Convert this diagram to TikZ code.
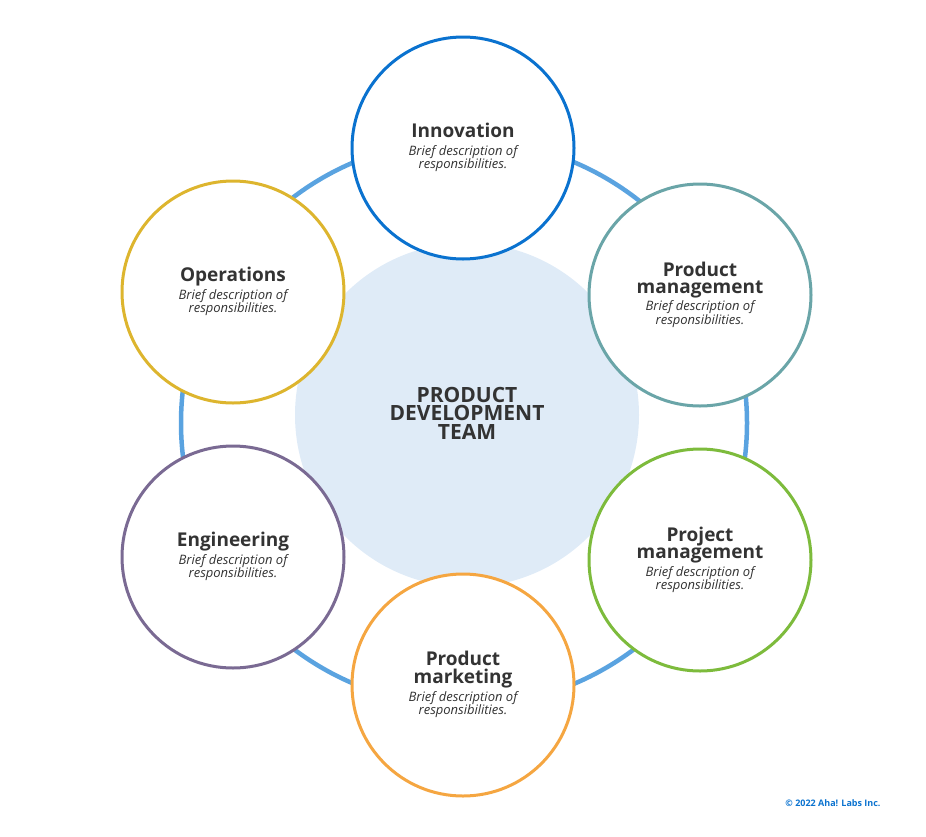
\documentclass[tikz,border=0pt]{standalone}
\usepackage{fontspec}
\setmainfont{Open Sans}
\definecolor{ringc}{HTML}{5AA3E0}
\definecolor{inno}{HTML}{0A72CF}
\definecolor{pmc}{HTML}{6AA5A8}
\definecolor{prj}{HTML}{7DBB3C}
\definecolor{mktc}{HTML}{F5A641}
\definecolor{engc}{HTML}{7A6A93}
\definecolor{opsc}{HTML}{DDB52E}
\definecolor{corec}{HTML}{DFEBF7}
\begin{document}
\begin{tikzpicture}[x=1pt,y=-1pt,
  rolebox/.style={circle,draw,line width=3pt,fill=white,minimum size=222pt,inner sep=0pt,text=black!80}]
\useasboundingbox (0,0) rectangle (926,836);
\coordinate (c) at (464,423);
\draw[ringc,line width=4.5pt] (c) circle[radius=283];
\node[circle,fill=corec,minimum size=344pt,inner sep=0pt,text=black!80] (core) at (467,415)
  {\begin{tabular}{@{}c@{}}\bfseries\fontsize{21}{26}\selectfont PRODUCT\\\bfseries\fontsize{21}{26}\selectfont DEVELOPMENT\\\bfseries\fontsize{21}{26}\selectfont TEAM\end{tabular}};
\node[rolebox,draw=inno] (inn) at (463,148) {\begin{tabular}{@{}c@{}}\bfseries\fontsize{19}{23}\selectfont Innovation\\[4pt]\itshape\fontsize{13}{16}\selectfont Brief description of\\\itshape\fontsize{13}{16}\selectfont responsibilities.\end{tabular}};
\node[rolebox,draw=pmc] (pmg) at (700,295) {\begin{tabular}{@{}c@{}}\bfseries\fontsize{19}{23}\selectfont Product\\\bfseries\fontsize{19}{23}\selectfont management\\[4pt]\itshape\fontsize{13}{16}\selectfont Brief description of\\\itshape\fontsize{13}{16}\selectfont responsibilities.\end{tabular}};
\node[rolebox,draw=prj] (prm) at (700,560) {\begin{tabular}{@{}c@{}}\bfseries\fontsize{19}{23}\selectfont Project\\\bfseries\fontsize{19}{23}\selectfont management\\[4pt]\itshape\fontsize{13}{16}\selectfont Brief description of\\\itshape\fontsize{13}{16}\selectfont responsibilities.\end{tabular}};
\node[rolebox,draw=mktc] (mkt) at (463,685) {\begin{tabular}{@{}c@{}}\bfseries\fontsize{19}{23}\selectfont Product\\\bfseries\fontsize{19}{23}\selectfont marketing\\[4pt]\itshape\fontsize{13}{16}\selectfont Brief description of\\\itshape\fontsize{13}{16}\selectfont responsibilities.\end{tabular}};
\node[rolebox,draw=engc] (eng) at (233,557) {\begin{tabular}{@{}c@{}}\bfseries\fontsize{19}{23}\selectfont Engineering\\[4pt]\itshape\fontsize{13}{16}\selectfont Brief description of\\\itshape\fontsize{13}{16}\selectfont responsibilities.\end{tabular}};
\node[rolebox,draw=opsc] (ops) at (233,292) {\begin{tabular}{@{}c@{}}\bfseries\fontsize{19}{23}\selectfont Operations\\[4pt]\itshape\fontsize{13}{16}\selectfont Brief description of\\\itshape\fontsize{13}{16}\selectfont responsibilities.\end{tabular}};
\node[text=inno,font=\bfseries\fontsize{9}{11}\selectfont] (copy) at (833,803) {© 2022 Aha! Labs Inc.};
\end{tikzpicture}
\end{document}
